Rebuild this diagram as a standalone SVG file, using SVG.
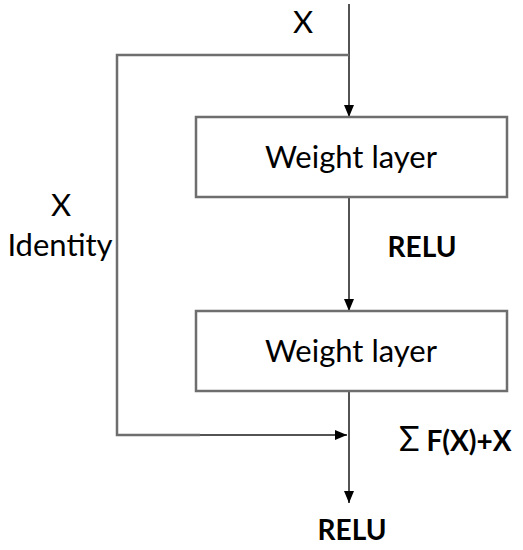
<svg xmlns="http://www.w3.org/2000/svg" width="523" height="550" viewBox="0 0 523 550">
<style>
.box{fill:#fff;stroke:#6e6e6e;stroke-width:2.5}
.ln{fill:none;stroke:#1a1a1a;stroke-width:1.5}
.gl{fill:none;stroke:#6e6e6e;stroke-width:2.5}
text{font-family:Lato,"Open Sans",sans-serif;fill:#000}
.t{font-size:31px}
.b{font-size:28px;font-weight:bold}
</style>
<defs>
<marker id="ah" markerWidth="12" markerHeight="10" refX="12" refY="5" orient="auto" markerUnits="userSpaceOnUse">
<path d="M0,0 L12,5 L0,10 Z" fill="#000"/>
</marker>
</defs>
<rect width="523" height="550" fill="#fff"/>
<g id="connectors">
<line class="ln" x1="349" y1="4" x2="349" y2="117" marker-end="url(#ah)"/>
<polyline class="gl" points="349,55 117,55 117,435 200,435"/>
<line class="ln" x1="200" y1="435" x2="347" y2="435" marker-end="url(#ah)"/>
<line class="ln" x1="349" y1="197" x2="349" y2="311" marker-end="url(#ah)"/>
<line class="ln" x1="349" y1="391" x2="349" y2="503" marker-end="url(#ah)"/>
</g>
<g id="input-label"><text class="t" x="303" y="33" text-anchor="middle">X</text></g>
<g id="identity-label">
<text class="t" x="61" y="216" text-anchor="middle">X</text>
<text class="t" x="60" y="256" text-anchor="middle">Identity</text>
</g>
<g id="weight1">
<rect class="box" x="196" y="117" width="311" height="80"/>
<text class="t" x="351" y="168" text-anchor="middle">Weight layer</text>
</g>
<g id="relu1"><text class="b" x="422" y="257" text-anchor="middle">RELU</text></g>
<g id="weight2">
<rect class="box" x="196" y="311" width="311" height="80"/>
<text class="t" x="351" y="362" text-anchor="middle">Weight layer</text>
</g>
<g id="sum-label"><text class="b" x="399" y="451"><tspan font-weight="normal" font-size="34">Σ</tspan> F(X)+X</text></g>
<g id="relu2"><text class="b" x="352" y="540" text-anchor="middle">RELU</text></g>
</svg>
